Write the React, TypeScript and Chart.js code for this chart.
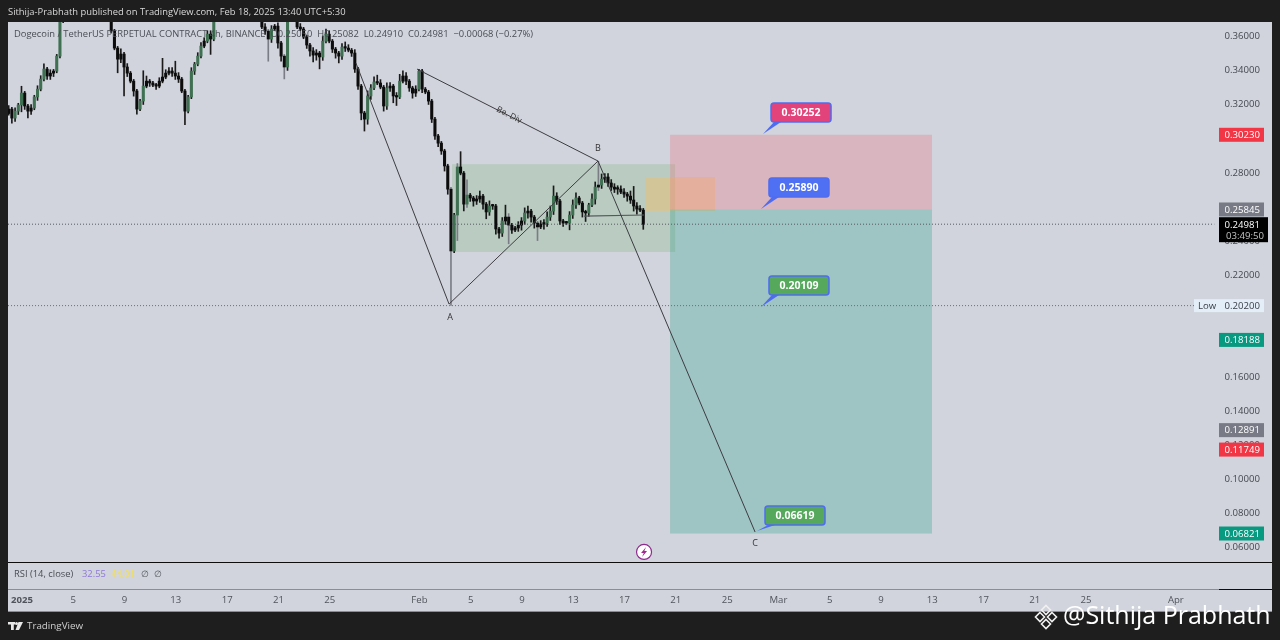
import React, { useEffect, useRef } from "react";
import { Chart, registerables } from "chart.js";

Chart.register(...registerables);

// ---- candles: 6-hour steps, prices ----
const firstCandleDay = -1.04;
const candlesPerDay = 4;
const closes = [
  0.3174, 0.3121, 0.3162, 0.3198, 0.3268, 0.3192, 0.3162, 0.318, 0.3245, 0.3291, 0.335, 0.3409, 0.3368, 0.3385, 0.3397, 0.3485,
  0.3691, 0.385, 0.39, 0.395, 0.4, 0.405, 0.41, 0.415, 0.41, 0.405, 0.4, 0.395, 0.39, 0.385, 0.38, 0.372,
  0.3632, 0.3532, 0.3467, 0.3497, 0.3421, 0.3385, 0.3338, 0.328, 0.3174, 0.3221, 0.3309, 0.3338, 0.3327, 0.3315, 0.3309, 0.3338,
  0.3362, 0.3385, 0.3397, 0.3385, 0.3368, 0.335, 0.328, 0.3162, 0.3245, 0.3397, 0.3438, 0.3485, 0.3544, 0.3573, 0.3614, 0.3585,
  0.372, 0.378, 0.385, 0.39, 0.395, 0.4, 0.395, 0.39, 0.395, 0.39, 0.385, 0.38, 0.378, 0.375, 0.372,
  0.3656, 0.3632, 0.3585, 0.3644, 0.3661, 0.3562, 0.3485, 0.3421, 0.372, 0.375, 0.372,
  0.3656, 0.3644, 0.3597, 0.355, 0.3515, 0.3491, 0.3503, 0.348, 0.3573, 0.3614, 0.3573, 0.3526, 0.3503, 0.3485, 0.3538, 0.3532, 0.352, 0.3503,
  0.3409, 0.3309, 0.3151, 0.3115, 0.3251, 0.3298, 0.3333, 0.3327, 0.3303, 0.3192, 0.3298, 0.3309, 0.3251, 0.3245, 0.3338, 0.3368,
  0.3338, 0.3298, 0.3268, 0.3291, 0.3397, 0.3291, 0.3274, 0.3221, 0.3115, 0.3016, 0.2974, 0.2928, 0.284, 0.2704,
  0.2341, 0.2552, 0.2834, 0.2798, 0.2616, 0.2669, 0.2652, 0.2634, 0.2646, 0.2663, 0.2616, 0.257, 0.2605, 0.2605, 0.247, 0.2446,
  0.2517, 0.254, 0.2493, 0.2464, 0.2476, 0.2493, 0.2517, 0.2564, 0.2575, 0.254, 0.2505, 0.2482, 0.2499, 0.2505, 0.254, 0.2575,
  0.2663, 0.2634, 0.2517, 0.2505, 0.2505, 0.2552, 0.2611, 0.2652, 0.2622, 0.257, 0.2564, 0.2611, 0.2646, 0.2716, 0.2728, 0.2763,
  0.2775, 0.274, 0.2716, 0.2704, 0.2704, 0.2687, 0.2675, 0.2663, 0.264, 0.2605, 0.2587, 0.2581, 0.2498,
];
const upperWicks = [
  2, 1, 2, 1, 4, 1, 1, 2, 1, 2, 2, 3, 1, 2, 1, 1,
  1, 1, 1, 1, 1, 1, 1, 1, 1, 1, 1, 1, 1, 1, 1, 1,
  1, 1, 1, 3, 1, 2, 1, 1, 1, 1, 9, 3, 1, 1, 1, 2, 11, 2, 2, 2, 7, 2, 1, 1, 1, 2, 1, 2, 2, 2, 2, 2,
  1, 1, 1, 1, 1, 1, 1, 1, 1, 1, 1, 1, 1, 1, 1,
  1, 2, 1, 2, 1, 2, 1, 1, 1, 1, 1,
  1, 2, 1, 1, 1, 2, 2, 1, 3, 3, 2, 1, 1, 1, 2, 3, 2, 1,
  2, 1, 1, 1, 3, 2, 3, 4, 2, 1, 3, 2, 1, 2, 4, 3, 2, 1, 1, 2, 1, 1, 1, 1, 1, 1, 1, 1, 1, 1,
  1, 1, 2, 9, 1, 9, 1, 1, 2, 3, 1, 1, 3, 1, 1, 1, 2, 7, 2, 1, 1, 2, 2, 3, 3, 1, 1, 1, 2, 2, 3, 3, 6, 2, 1, 1, 1, 2, 3, 3, 1, 1, 1, 1, 3, 3, 14, 3, 2, 2, 2, 2, 2, 2, 2, 1, 3, 8, 2, 2, 1,
];
const lowerWicks = [
  1, 3, 2, 2, 4, 2, 4, 2, 1, 2, 1, 1, 2, 2, 2, 1,
  1, 1, 1, 1, 1, 1, 1, 1, 1, 1, 1, 1, 1, 1, 1, 1,
  1, 1, 8, 2, 17, 2, 1, 3, 3, 1, 2, 1, 2, 1, 2, 1, 1, 1, 1, 2, 2, 2, 1, 8, 1, 1, 2, 1, 1, 1, 1, 9,
  1, 1, 1, 1, 1, 1, 1, 1, 1, 1, 1, 1, 1, 1, 1,
  1, 2, 13, 2, 1, 3, 3, 7, 2, 1, 1,
  1, 1, 1, 2, 3, 4, 3, 7, 2, 1, 1, 2, 3, 4, 2, 2, 1, 2,
  2, 2, 4, 7, 3, 2, 1, 1, 1, 3, 2, 2, 4, 5, 1, 1, 2, 2, 3, 2, 1, 2, 1, 2, 2, 2, 2, 2, 3, 3,
  32, 1, 15, 1, 4, 2, 2, 3, 2, 2, 3, 4, 2, 2, 3, 3, 2, 2, 11, 2, 1, 2, 3, 2, 3, 3, 3, 8, 1, 3, 2, 2, 2, 2, 2, 2, 1, 4, 2, 2, 1, 3, 5, 2, 1, 3, 2, 2, 2, 2, 2, 2, 3, 1, 2, 3, 2, 3, 3, 1, 3,
];
const fadedWickCandles = [81, 86, 138, 143, 140, 165, 184, 156];

// ---- axes ----
const priceTicks = [0.36, 0.34, 0.32, 0.3, 0.28, 0.26, 0.24, 0.22, 0.2, 0.18, 0.16, 0.14, 0.12, 0.1, 0.08, 0.06];
const dayTicks = [0, 4, 8, 12, 16, 20, 24, 31, 35, 39, 43, 47, 51, 55, 59, 63, 67, 71, 75, 79, 83, 90];
const dayTickLabels = ["2025", "5", "9", "13", "17", "21", "25", "Feb", "5", "9", "13", "17", "21", "25", "Mar", "5", "9", "13", "17", "21", "25", "Apr"];

// ---- drawings, in days since Jan 1 and prices ----
const waveDays = [26.05, 33.31, 44.93, 57.18];
const wavePrices = [0.3444, 0.2029, 0.2869, 0.0691];
const divergenceDays = [30.81, 44.93];
const divergencePrices = [0.3409, 0.2869];
const shelfDays = [43.84, 48.52];
const shelfPrices = [0.2546, 0.2552];
const lastPrice = 0.24981;
const lowPrice = 0.202;
const lowLineEndDay = 91.5;

const zoneDayFrom = [33.54, 48.67, 50.55, 50.55];
const zoneDayTo = [50.94, 54.06, 70.98, 70.98];
const zonePriceHigh = [0.2851, 0.2775, 0.3023, 0.25845];
const zonePriceLow = [0.2335, 0.2576, 0.25845, 0.06821];
const zoneFills = ["rgba(150,190,150,0.38)", "rgba(250,190,90,0.38)", "rgba(242,100,120,0.27)", "rgba(40,160,140,0.3)"];

const calloutDays = [57.8, 57.64, 57.64, 57.33];
const calloutPrices = [0.3027, 0.2587, 0.2012, 0.0697];
const calloutBodyRise = [31, 31, 31, 25];
const calloutLabels = ["0.30252", "0.25890", "0.20109", "0.06619"];
const calloutFills = ["#e2437a", "#4f70f2", "#55a85c", "#55a85c"];

const waveLetters = ["A", "B", "C"];
const waveLetterDays = [33.39, 44.93, 57.18];
const waveLetterPrices = [0.1953, 0.2945, 0.0621];

const badgePrices = [0.3023, 0.25845, 0.18188, 0.12891, 0.11749, 0.06821];
const badgeLabels = ["0.30230", "0.25845", "0.18188", "0.12891", "0.11749", "0.06821"];
const badgeFills = ["#f23645", "#787b86", "#089981", "#787b86", "#f23645", "#089981"];

const PANE = "#d1d4dc";
const DARK = "#1e1e1e";
const UI_FONT = '"Open Sans", sans-serif';

const candleDay = (i: number) => firstCandleDay + i / candlesPerDay;
const opens = closes.map((c, i) => (i === 0 ? 0.3148 : closes[i - 1]));
const bodyBars = closes.map((c, i) => ({ x: candleDay(i), y: [opens[i], c] }));
const wickBars = closes.map((c, i) => ({
  x: candleDay(i),
  y: [Math.min(opens[i], c) - (lowerWicks[i] ?? 1) * 0.001, Math.max(opens[i], c) + (upperWicks[i] ?? 1) * 0.001],
}));
const bodyColors = closes.map((c, i) => (c - opens[i] > 0.0035 ? "#3f7052" : "#0c0c0c"));
const wickColors = closes.map((c, i) =>
  fadedWickCandles.includes(i) ? "#7a7d85" : "#1a1a1a"
);
const xy = (xs: number[], ys: number[]) => xs.map((x, i) => ({ x, y: ys[i] }));

function roundRect(ctx: CanvasRenderingContext2D, x: number, y: number, w: number, h: number, r: number) {
  ctx.beginPath();
  ctx.roundRect(x, y, w, h, r);
}

const backdrop = {
  id: "backdrop",
  beforeDraw(chart: any) {
    const { ctx, width, height } = chart;
    ctx.save();
    ctx.fillStyle = DARK;
    ctx.fillRect(0, 0, width, height);
    ctx.fillStyle = PANE;
    ctx.fillRect(8, 22, 1264, 590);
    ctx.restore();
  },
  beforeDatasetsDraw(chart: any) {
    const { ctx, scales } = chart;
    const { x, y } = scales;
    ctx.save();
    zoneFills.forEach((fill, i) => {
      const l = x.getPixelForValue(zoneDayFrom[i]);
      const r = x.getPixelForValue(zoneDayTo[i]);
      const t = y.getPixelForValue(zonePriceHigh[i]);
      const b = y.getPixelForValue(zonePriceLow[i]);
      ctx.fillStyle = fill;
      ctx.fillRect(l, t, r - l, b - t);
    });
    ctx.restore();
  },
};

const annotations = {
  id: "annotations",
  afterDraw(chart: any) {
    const { ctx, scales } = chart;
    const { x, y } = scales;
    ctx.save();

    // pane separators
    ctx.fillStyle = "#0d0d0d";
    ctx.fillRect(8, 562, 1264, 1);
    ctx.fillStyle = "#8a8d95";
    ctx.fillRect(8, 589, 1211, 1);
    ctx.fillStyle = "#0d0d0d";
    ctx.fillRect(1219, 589, 53, 1);
    ctx.fillStyle = "#8a8d95";
    ctx.fillRect(8, 611, 1264, 1);

    // wave letters
    ctx.fillStyle = "#333";
    ctx.font = `9px ${UI_FONT}`;
    ctx.textAlign = "center";
    ctx.textBaseline = "middle";
    waveLetters.forEach((t, i) => {
      ctx.fillText(t, x.getPixelForValue(waveLetterDays[i]), y.getPixelForValue(waveLetterPrices[i]));
    });

    // divergence label
    ctx.save();
    ctx.translate(x.getPixelForValue(37.99), y.getPixelForValue(0.3139));
    ctx.rotate((27 * Math.PI) / 180);
    ctx.fillStyle = "#333";
    ctx.font = `8.5px ${UI_FONT}`;
    ctx.fillText("Be. Div", 0, 0);
    ctx.restore();

    // callouts
    calloutLabels.forEach((t, i) => {
      const ax = x.getPixelForValue(calloutDays[i]);
      const ay = y.getPixelForValue(calloutPrices[i]);
      const bx = ax + 8;
      const by = ay - calloutBodyRise[i];
      const bw = 60;
      const bh = 19;
      ctx.strokeStyle = "#4f6cf0";
      ctx.lineWidth = 1.5;
      ctx.beginPath();
      ctx.moveTo(ax, ay);
      ctx.lineTo(bx + 3, by + bh);
      ctx.lineTo(bx + 10, by + bh);
      ctx.closePath();
      ctx.fillStyle = "#4f6cf0";
      ctx.fill();
      ctx.fillStyle = calloutFills[i];
      roundRect(ctx, bx, by, bw, bh, 3);
      ctx.fill();
      ctx.stroke();
      ctx.fillStyle = "#ffffff";
      ctx.font = `bold 10.5px ${UI_FONT}`;
      ctx.textAlign = "center";
      ctx.textBaseline = "middle";
      ctx.fillText(t, bx + bw / 2, by + bh / 2 + 0.5);
    });

    // bolt marker
    const fx = x.getPixelForValue(48.52);
    const fy = y.getPixelForValue(0.0574);
    ctx.beginPath();
    ctx.arc(fx, fy, 7.5, 0, Math.PI * 2);
    ctx.fillStyle = "#ffffff";
    ctx.fill();
    ctx.strokeStyle = "#8e2a8e";
    ctx.lineWidth = 1.2;
    ctx.stroke();
    ctx.fillStyle = "#a02a90";
    ctx.beginPath();
    ctx.moveTo(fx + 2, fy - 5);
    ctx.lineTo(fx - 3, fy + 1);
    ctx.lineTo(fx - 0.3, fy + 1);
    ctx.lineTo(fx - 2, fy + 5);
    ctx.lineTo(fx + 3, fy - 1);
    ctx.lineTo(fx + 0.3, fy - 1);
    ctx.closePath();
    ctx.fill();

    // price badges
    ctx.font = `9.6px ${UI_FONT}`;
    ctx.textAlign = "right";
    ctx.textBaseline = "middle";
    badgeLabels.forEach((t, i) => {
      const py = y.getPixelForValue(badgePrices[i]);
      ctx.fillStyle = badgeFills[i];
      ctx.fillRect(1219, py - 7, 45, 14);
      ctx.fillStyle = "#ffffff";
      ctx.fillText(t, 1260, py + 0.5);
    });

    // low badge
    const lowY = y.getPixelForValue(lowPrice);
    ctx.fillStyle = "#e3eef8";
    ctx.fillRect(1194, lowY - 6.5, 70, 13);
    ctx.fillStyle = "#3a3d45";
    ctx.fillText("0.20200", 1260, lowY + 0.5);
    ctx.textAlign = "left";
    ctx.fillText("Low", 1198, lowY + 0.5);

    // last price badge
    const lastY = y.getPixelForValue(lastPrice);
    ctx.fillStyle = "#000000";
    ctx.fillRect(1219, lastY - 7, 49, 25);
    ctx.fillStyle = "#ffffff";
    ctx.textAlign = "right";
    ctx.fillText("0.24981", 1260, lastY + 1);
    ctx.fillStyle = "#c4c4c4";
    ctx.fillText("03:49:50", 1264, lastY + 12);

    // legends
    ctx.textAlign = "left";
    ctx.textBaseline = "middle";
    ctx.font = `9.4px ${UI_FONT}`;
    ctx.fillStyle = "#4a4d55";
    ctx.fillText(
      "Dogecoin / TetherUS PERPETUAL CONTRACT 4h, BINANCE  O0.25050  H0.25082  L0.24910  C0.24981  \u22120.00068 (\u22120.27%)",
      14,
      34
    );
    const rsiParts: [string, string, number][] = [
      ["RSI (14, close)", "#4a4d55", 14],
      ["32.55", "#8f78d8", 82],
      ["44.01", "#f2e05a", 111],
      ["\u2205", "#55585f", 141],
      ["\u2205", "#55585f", 154],
    ];
    rsiParts.forEach(([t, c, px]) => {
      ctx.fillStyle = c;
      ctx.fillText(t, px, 574.5);
    });

    // header and footer
    ctx.fillStyle = "#d8d8d8";
    ctx.font = `9.4px ${UI_FONT}`;
    ctx.fillText("Sithija-Prabhath published on TradingView.com, Feb 18, 2025 13:40 UTC+5:30", 8, 12.5);
    ctx.fillStyle = "#d0d0d0";
    ctx.font = `9.8px ${UI_FONT}`;
    ctx.fillText("TradingView", 27, 626.5);
    ctx.fillStyle = "#e8e8e8";
    ctx.fillRect(8, 622, 7, 2.5);
    ctx.fillRect(11, 622, 2.8, 8);
    ctx.beginPath();
    ctx.arc(16.5, 623.5, 1.5, 0, Math.PI * 2);
    ctx.fill();
    ctx.beginPath();
    ctx.moveTo(18.5, 622);
    ctx.lineTo(23, 622);
    ctx.lineTo(19, 630);
    ctx.lineTo(15.5, 630);
    ctx.closePath();
    ctx.fill();

    // watermark
    ctx.fillStyle = "#ffffff";
    ctx.font = `25px ${UI_FONT}`;
    ctx.fillText("@Sithija Prabhath", 1063, 617);
    ctx.strokeStyle = "#f0f0f0";
    ctx.lineWidth = 1.6;
    const diamonds: [number, number][] = [
      [1046, 610],
      [1040, 617],
      [1052, 617],
      [1046, 624],
    ];
    diamonds.forEach(([dx, dy]) => {
      ctx.beginPath();
      ctx.moveTo(dx, dy - 4.5);
      ctx.lineTo(dx + 4.5, dy);
      ctx.lineTo(dx, dy + 4.5);
      ctx.lineTo(dx - 4.5, dy);
      ctx.closePath();
      ctx.stroke();
    });
    ctx.restore();
  },
};

export default function App() {
  const ref = useRef<HTMLCanvasElement | null>(null);
  useEffect(() => {
    document.body.style.margin = "0";
    document.body.style.background = DARK;
    const line = (xs: number[], ys: number[], extra: any = {}) => ({
      type: "line" as const,
      data: xy(xs, ys),
      borderColor: "#3d3d42",
      borderWidth: 1,
      pointRadius: 0,
      tension: 0,
      order: 0,
      ...extra,
    });
    const chart = new Chart(ref.current as HTMLCanvasElement, {
      type: "bar",
      data: {
        datasets: [
          {
            label: "wicks",
            data: wickBars as any,
            backgroundColor: wickColors,
            barThickness: 1,
            grouped: false,
            order: 2,
          },
          {
            label: "bodies",
            data: bodyBars as any,
            backgroundColor: bodyColors,
            barThickness: 2.4,
            minBarLength: 1.5,
            grouped: false,
            order: 1,
          },
          line(waveDays, wavePrices, { label: "wave" }),
          line(divergenceDays, divergencePrices, { label: "divergence" }),
          line(shelfDays, shelfPrices, { label: "shelf", borderColor: "#55585c", borderWidth: 1.2 }),
          line([-1.09, 93], [lastPrice, lastPrice], {
            label: "last",
            borderColor: "#55585f",
            borderDash: [1, 2],
            borderWidth: 1,
          }),
          line([-1.09, lowLineEndDay], [lowPrice, lowPrice], {
            label: "low",
            borderColor: "#6a6d75",
            borderDash: [1, 2],
            borderWidth: 1,
          }),
        ] as any,
      },
      options: {
        animation: false,
        responsive: false,
        devicePixelRatio: 1,
        layout: { padding: { top: 22, bottom: 28, left: 8, right: 8 } },
        plugins: { legend: { display: false }, tooltip: { enabled: false } },
        scales: {
          x: {
            type: "linear",
            offset: false,
            min: -1.092,
            max: 97.5,
            grid: { display: false, drawTicks: false },
            border: { display: false },
            afterBuildTicks: (s: any) => {
              s.ticks = dayTicks.map((value) => ({ value }));
            },
            afterFit: (s: any) => {
              s.height = 23;
            },
            ticks: {
              autoSkip: false,
              maxRotation: 0,
              padding: 6,
              color: "#50535b",
              font: (c: any) => ({
                family: UI_FONT,
                size: 9.6,
                weight: c.index === 0 ? "bold" : "normal",
              }),
              callback: (v: any) => dayTickLabels[dayTicks.indexOf(v)],
            },
          },
          y: {
            type: "linear",
            position: "right",
            min: 0.03564,
            max: 0.36852,
            grid: { display: false, drawTicks: false },
            border: { display: false },
            afterBuildTicks: (s: any) => {
              s.ticks = priceTicks.map((value) => ({ value }));
            },
            afterFit: (s: any) => {
              s.width = 0;
            },
            ticks: {
              mirror: true,
              padding: -12,
              autoSkip: false,
              color: "#44474f",
              font: { family: UI_FONT, size: 9.6 },
              callback: (v: any) => Number(v).toFixed(5),
            },
          },
        },
      } as any,
      plugins: [backdrop, annotations],
    });
    return () => chart.destroy();
  }, []);
  return (
    <div style={{ position: "fixed", left: 0, top: 0, width: 1280, height: 640 }}>
      <canvas ref={ref} width={1280} height={640} style={{ display: "block" }} />
    </div>
  );
}
